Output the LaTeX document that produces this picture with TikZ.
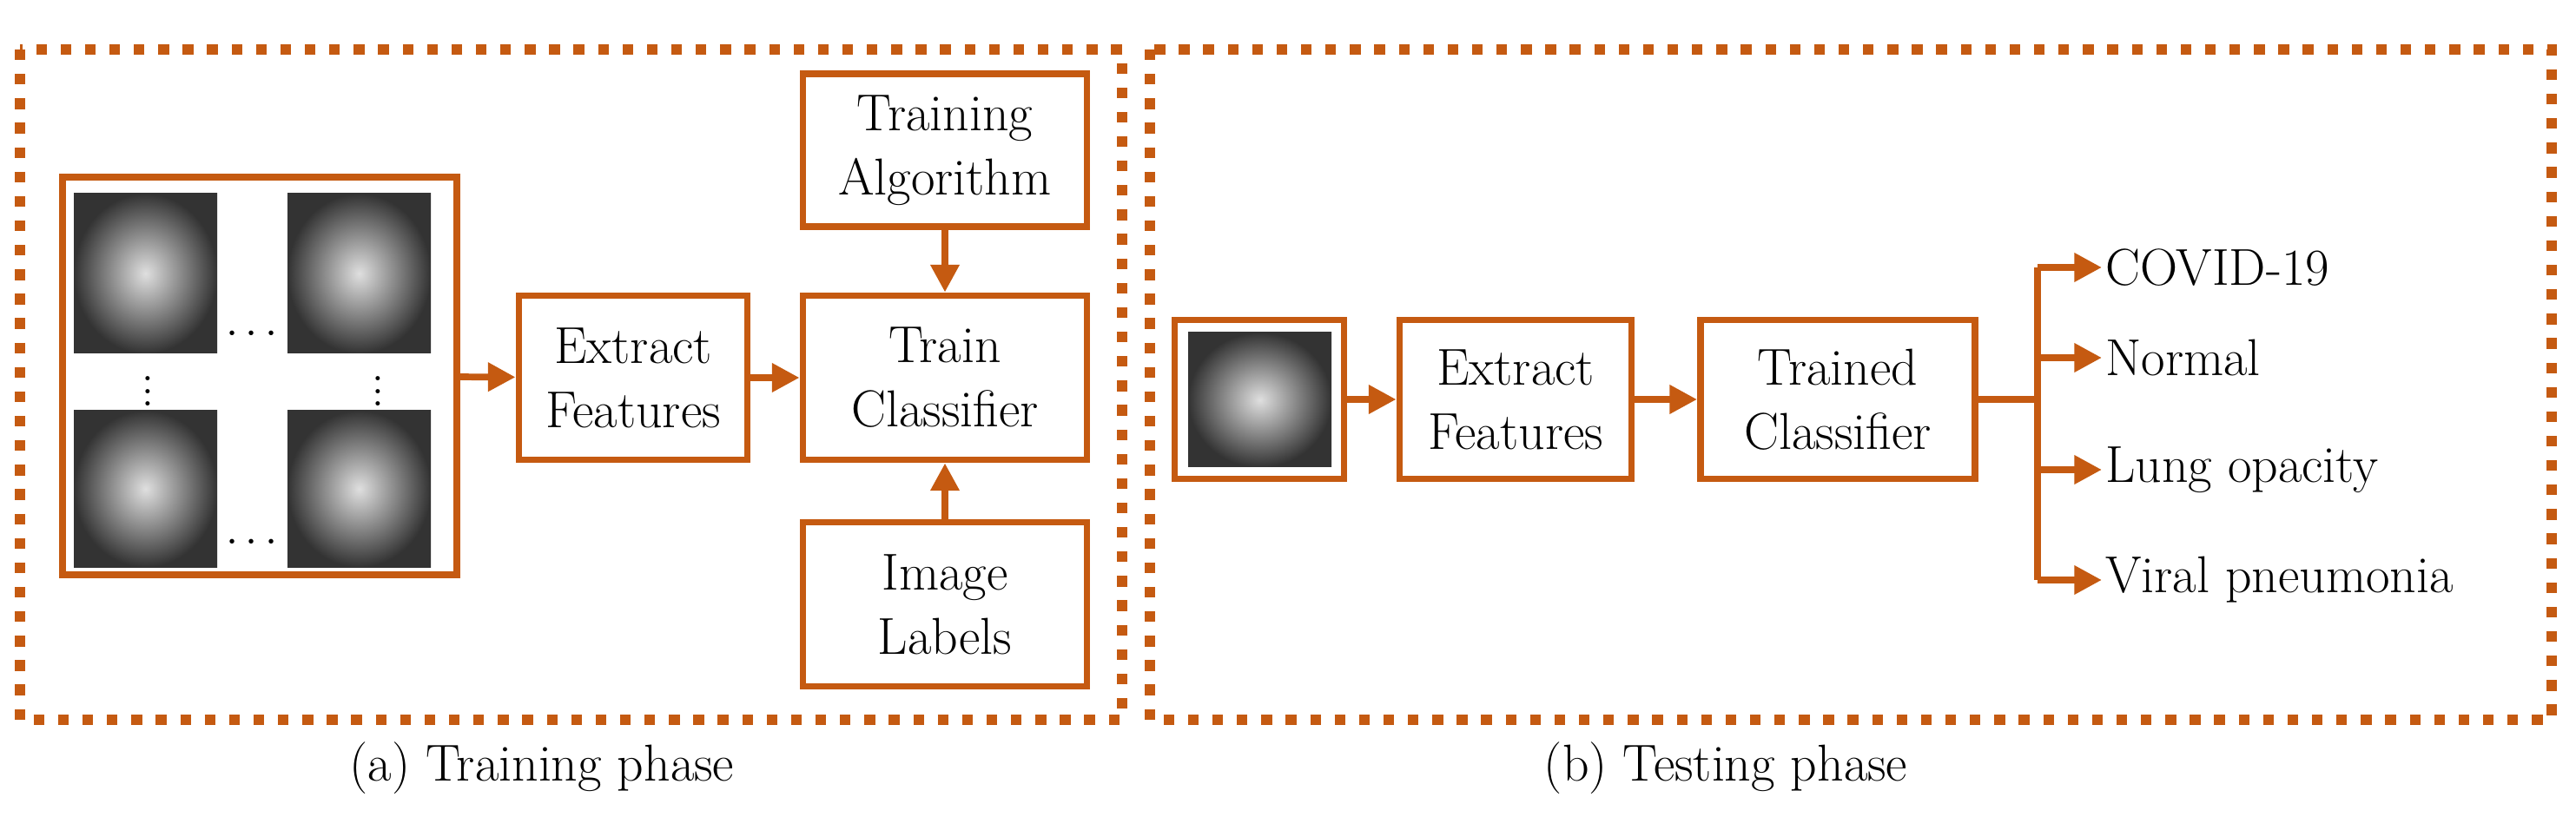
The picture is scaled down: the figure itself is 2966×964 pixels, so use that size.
\documentclass[tikz,border=0pt]{standalone}
\usetikzlibrary{arrows.meta,positioning}
\definecolor{org}{HTML}{C55A11}
\begin{document}
\begin{tikzpicture}[x=0.01cm,y=-0.01cm,
  box/.style={draw=org,line width=2.2pt,align=center,font=\fontsize{17}{21}\selectfont,inner sep=0pt},
  arr/.style={draw=org,line width=2.2pt,-{Triangle[length=9pt,width=9pt]}},
  frame/.style={draw=org,line width=3.5pt,dash pattern=on 3.5pt off 4.5pt},
  xray/.style={inner color=gray!25,outer color=black!80,draw=none},
  dots/.style={inner sep=0pt,font=\Large},
  lab/.style={font=\fontsize{17}{21}\selectfont,anchor=west,inner sep=1pt}]
\useasboundingbox (0,0) rectangle (2966,964);
\draw[frame] (23,57) rectangle (1292,829);
\draw[frame] (1324,57) rectangle (2938,829);
\node[font=\fontsize{17}{21}\selectfont] (capa) at (624,885) {(a) Training phase};
\node[font=\fontsize{17}{21}\selectfont] (capb) at (1987,885) {(b) Testing phase};
% image grid
\node[box,minimum width=4.54cm,minimum height=4.58cm] (grid) at (299,433) {};
\shade[xray] (85,223) rectangle (250,407);
\shade[xray] (331,223) rectangle (496,407);
\shade[xray] (85,473) rectangle (250,653);
\shade[xray] (331,473) rectangle (496,653);
\node[dots] (h1) at (290,385) {$\cdots$};
\node[dots] (h2) at (290,625) {$\cdots$};
\node[dots] (v1) at (170,440) {$\vdots$};
\node[dots] (v2) at (435,440) {$\vdots$};
\node[box,minimum width=2.63cm,minimum height=1.89cm] (ext) at (729,435) {Extract\\Features};
\node[box,minimum width=3.27cm,minimum height=1.89cm] (tc) at (1088,435) {Train\\Classifier};
\node[box,minimum width=3.27cm,minimum height=1.76cm] (ta) at (1088,173) {Training\\Algorithm};
\node[box,minimum width=3.27cm,minimum height=1.89cm] (il) at (1088,696) {Image\\Labels};
\draw[arr] (grid) -- (ext);
\draw[arr] (ext) -- (tc);
\draw[arr] (ta) -- (tc);
\draw[arr] (il) -- (tc);
% testing
\node[box,minimum width=1.95cm,minimum height=1.83cm] (img) at (1450,460) {};
\shade[xray] (1368,383) rectangle (1533,538);
\node[box,minimum width=2.67cm,minimum height=1.83cm] (ext2) at (1745,460) {Extract\\Features};
\node[box,minimum width=3.16cm,minimum height=1.83cm] (trc) at (2116,460) {Trained\\Classifier};
\draw[arr] (img) -- (ext2);
\draw[arr] (ext2) -- (trc);
\coordinate (br) at (2346,460);
\draw[org,line width=2.2pt] (trc.east) -- (br);
\draw[org,line width=2.2pt] (2346,308) -- (2346,668);
\node[lab] (c1) at (2420,308) {COVID-19};
\node[lab] (c2) at (2420,412) {Normal};
\node[lab] (c3) at (2420,541) {Lung opacity};
\node[lab] (c4) at (2420,668) {Viral pneumonia};
\foreach \n/\yy in {c1/308,c2/412,c3/541,c4/668}
  \draw[arr] (2346,\yy) -- (\n.west);
\end{tikzpicture}
\end{document}
